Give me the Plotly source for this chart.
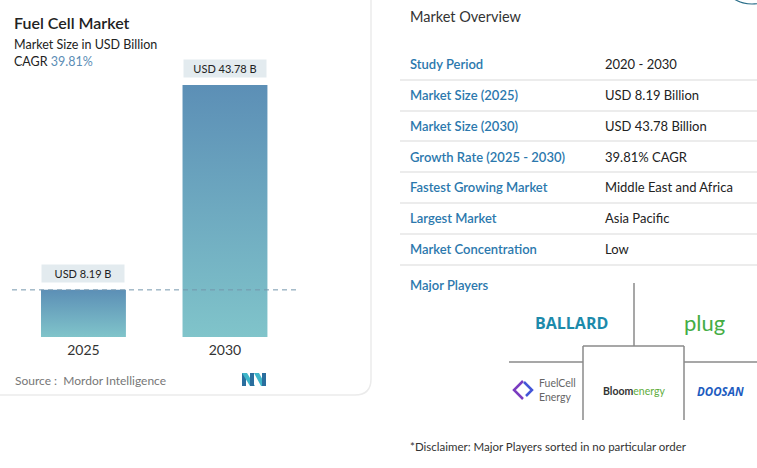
import plotly.graph_objects as go

W, H = 757, 468


def px(x):
    return x / W


def py(y):
    return 1 - y / H


# ---------------- data ----------------
categories = ["2025", "2030"]
values = [8.19, 43.78]
value_labels = ["USD 8.19 B", "USD 43.78 B"]
chart_title = "Fuel Cell Market"
chart_subtitle = "Market Size in USD Billion"
cagr_value = "39.81%"
source_text = "Source :  Mordor Intelligence"

overview_labels = [
    "Study Period",
    "Market Size (2025)",
    "Market Size (2030)",
    "Growth Rate (2025 - 2030)",
    "Fastest Growing Market",
    "Largest Market",
    "Market Concentration",
]
overview_values = [
    "2020 - 2030",
    "USD 8.19 Billion",
    "USD 43.78 Billion",
    "39.81% CAGR",
    "Middle East and Africa",
    "Asia Pacific",
    "Low",
]
disclaimer = "*Disclaimer: Major Players sorted in no particular order"

FONT = "Lato"
BLUE = "#2b78ad"
DARK = "#222222"

fig = go.Figure()

# ---------------- bars (gradient filled) ----------------
half_w = 0.30
for i, (cat, v) in enumerate(zip(categories, values)):
    fig.add_trace(go.Scatter(
        x=[i - half_w, i + half_w, i + half_w, i - half_w, i - half_w],
        y=[0, 0, v, v, 0],
        mode="lines", fill="toself",
        line=dict(width=0, color="rgba(0,0,0,0)"),
        fillgradient=dict(type="vertical",
                          colorscale=[[0, "#80c4ca"], [1, "#5c8fb6"]]),
        hoverinfo="skip", showlegend=False,
    ))

fig.update_xaxes(
    domain=[px(12), px(298)], range=[-0.505, 1.516],
    tickvals=list(range(len(categories))), ticktext=categories,
    showgrid=False, zeroline=False, showline=False, ticks="",
    tickfont=dict(family=FONT, size=14, color="#333"),
    ticklabelstandoff=3,
    fixedrange=True,
)
fig.update_yaxes(
    domain=[py(337), py(49.2)], range=[0, 50], visible=False,
    showgrid=False, zeroline=False, fixedrange=True,
)

shapes = []
annotations = []

# dashed reference line at first value
shapes.append(dict(type="line", xref="paper", yref="y",
                   x0=px(12), x1=px(298), y0=values[0], y1=values[0],
                   line=dict(color="#7496ad", width=1, dash="5px,4px")))

# value labels
for i, (v, lab) in enumerate(zip(values, value_labels)):
    annotations.append(dict(
        x=i, y=v, xref="x", yref="y", text=lab, showarrow=False,
        xanchor="center", yanchor="bottom", yshift=7,
        bgcolor="#e3ebef", borderpad=2,
        width=78, font=dict(family=FONT, size=11, color=DARK),
    ))

# card border (rounded bottom-right corner)
shapes.append(dict(
    type="path", xref="paper", yref="paper",
    path=(f"M {px(-5)},{py(395)} L {px(355)},{py(395)} "
          f"Q {px(371)},{py(395)} {px(371)},{py(379)} L {px(371)},{py(-5)}"),
    line=dict(color="#ebebeb", width=1.5),
))

# titles
annotations += [
    dict(x=px(12), y=py(22), text=chart_title,
         font=dict(family=FONT, size=16, color=DARK, weight=600)),
    dict(x=px(12), y=py(44), text=chart_subtitle,
         font=dict(family=FONT, size=12.5, color=DARK)),
    dict(x=px(12), y=py(62),
         text=f"CAGR <span style='color:#5b8db5'>{cagr_value}</span>",
         font=dict(family=FONT, size=12.5, color=DARK)),
    dict(x=px(13), y=py(380), text=source_text,
         font=dict(family=FONT, size=12, color="#777")),
]

# Mordor logo (stylised)
logo_polys = [
    ([(242, 386), (242, 373), (246, 373), (246, 386)], "#2a6e9e"),
    ([(242, 373), (247, 373), (255, 386), (250, 386)], "#3fb6c9"),
    ([(250, 386), (250, 373), (254, 373), (254, 386)], "#2a6e9e"),
    ([(254, 373), (259, 373), (266, 386), (261, 386)], "#3fb6c9"),
    ([(262, 386), (262, 373), (266, 373), (266, 386)], "#2a6e9e"),
]
for pts, col in logo_polys:
    path = "M " + " L ".join(f"{px(a)},{py(b)}" for a, b in pts) + " Z"
    shapes.append(dict(type="path", xref="paper", yref="paper", path=path,
                       fillcolor=col, line=dict(width=0)))

# ---------------- right panel ----------------
annotations.append(dict(x=px(408), y=py(17), text="Market Overview",
                        font=dict(family=FONT, size=14.5, color="#333")))

row_centers = [64, 95, 126, 157, 187, 218, 249]
row_lines = [80, 111, 141, 172, 203, 234, 265]
for yc, lab, val in zip(row_centers, overview_labels, overview_values):
    annotations.append(dict(x=px(408), y=py(yc), text=lab,
                            font=dict(family=FONT, size=13, color=BLUE,
                                      weight=600)))
    annotations.append(dict(x=px(603), y=py(yc), text=val,
                            font=dict(family=FONT, size=13, color=DARK)))
for yl in row_lines:
    shapes.append(dict(type="line", xref="paper", yref="paper",
                       x0=px(400), x1=px(757), y0=py(yl), y1=py(yl),
                       line=dict(color="#d9d9d9", width=1)))

annotations.append(dict(x=px(408), y=py(285), text="Major Players",
                        font=dict(family=FONT, size=13, color=BLUE,
                                  weight=600)))

# players grid lines
grid = [
    ((634, 283), (634, 346)),
    ((583, 346), (684, 346)),
    ((583, 346), (583, 420)),
    ((684, 346), (684, 420)),
    ((509, 362), (583, 362)),
    ((684, 362), (757, 362)),
]
for (x0, y0), (x1, y1) in grid:
    shapes.append(dict(type="line", xref="paper", yref="paper",
                       x0=px(x0), x1=px(x1), y0=py(y0), y1=py(y1),
                       line=dict(color="#8a8a8a", width=1.5)))

# logos as text
annotations += [
    dict(x=px(571), y=py(323), xanchor="center", text="<b>BALLARD</b>",
         font=dict(family="Open Sans", size=16, color="#1c8aab")),
    dict(x=px(704), y=py(322), xanchor="center", text="plug",
         font=dict(family="Lato", size=22, color="#45ad45")),
    dict(x=px(537), y=py(390), text="FuelCell<br>Energy", align="left",
         font=dict(family="Lato", size=10.5, color="#666")),
    dict(x=px(634), y=py(391), xanchor="center",
         text="<b>Bloom</b><span style='color:#5fae3e'>energy</span>",
         font=dict(family="Lato", size=10.5, color="#333")),
    dict(x=px(720), y=py(391), xanchor="center", text="<b><i>DOOSAN</i></b>",
         font=dict(family="Open Sans", size=11.5, color="#1d5cc0")),
    dict(x=px(408), y=py(446), text=disclaimer,
         font=dict(family=FONT, size=11.5, color="#333")),
]

# FuelCell icon chevrons
shapes.append(dict(type="path", xref="paper", yref="paper",
                   path=f"M {px(523)},{py(381)} L {px(514)},{py(390)} L {px(523)},{py(399)}",
                   line=dict(color="#7a3cc0", width=2.5)))
shapes.append(dict(type="path", xref="paper", yref="paper",
                   path=f"M {px(524)},{py(382)} L {px(532)},{py(390)} L {px(526)},{py(396)}",
                   line=dict(color="#4456d8", width=2.5)))

# partial circle in top-right corner
shapes.append(dict(type="circle", xref="paper", yref="paper",
                   x0=px(718), x1=px(786), y0=py(4), y1=py(-64),
                   line=dict(color="#2a6f8a", width=1.2)))

for a in annotations:
    a.setdefault("xref", "paper")
    a.setdefault("yref", "paper")
    a.setdefault("xanchor", "left")
    a.setdefault("yanchor", "middle")
    a.setdefault("showarrow", False)

fig.update_layout(
    width=W, height=H,
    margin=dict(l=0, r=0, t=0, b=0),
    paper_bgcolor="white", plot_bgcolor="white",
    shapes=shapes, annotations=annotations,
    showlegend=False, hovermode=False,
    font=dict(family=FONT),
)

fig.write_html("out.html", config={"displayModeBar": False})
